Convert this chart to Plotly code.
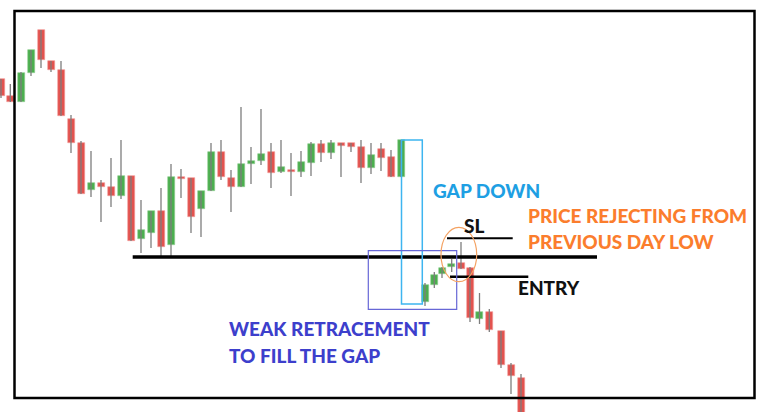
import plotly.graph_objects as go

# ---- data ----
slot = [0, 0.93, 2, 3, 4, 5, 6, 7, 8, 9, 10, 11, 12, 13, 14, 15, 16, 17, 18, 19,
        20, 21, 22, 23, 24, 25, 26, 27, 28, 29, 30, 31, 32, 33, 34, 35, 36, 37, 38, 39,
        40, 42.4, 43.33, 44.1, 45.07, 46, 46.9, 47.85, 48.83, 50, 51, 52]
open_ = [333, 316, 310, 339, 382, 351, 342, 293, 269, 222, 229, 225, 216, 236, 173, 179,
         201, 167, 235, 234, 203, 221, 260, 234, 225, 248, 251, 260, 240, 242, 240, 249,
         268, 259, 269, 269, 265, 244, 263, 255, 235, 110, 127, 138, 145, 149, 144, 93,
         100, 81, 47, 34]
high = [333, 328, 340, 362, 382, 351, 351, 297, 271, 261, 232, 254, 272, 236, 212, 201,
        224, 248, 243, 234, 221, 269, 272, 242, 305, 265, 303, 269, 272, 259, 261, 270,
        272, 272, 269, 269, 272, 269, 269, 262, 272, 129, 140, 145, 153, 170, 145, 119,
        103, 81, 49, 38]
low = [314, 310, 310, 336, 344, 340, 296, 259, 218, 215, 190, 205, 213, 171, 159, 164,
       155, 155, 214, 179, 175, 221, 232, 200, 225, 228, 247, 224, 239, 216, 235, 236,
       250, 253, 235, 260, 229, 238, 241, 235, 235, 106, 124, 134, 140, 143, 90, 88,
       80, 44, 18, -10]
close = [316, 310, 339, 362, 352, 342, 296, 269, 218, 229, 225, 216, 236, 171, 182, 201,
         165, 235, 233, 195, 221, 260, 235, 225, 248, 251, 258, 239, 245, 240, 250, 268,
         259, 269, 266, 265, 244, 257, 254, 235, 272, 127, 137, 144, 148, 143, 94, 100,
         82, 47, 36, -8]

prev_day_low = 155
stop_loss = 173.7
entry = 135.3

labels = {
    "gap": "GAP DOWN",
    "rej1": "PRICE REJECTING FROM",
    "rej2": "PREVIOUS DAY LOW",
    "sl": "SL",
    "entry": "ENTRY",
    "weak1": "WEAK RETRACEMENT",
    "weak2": "TO FILL THE GAP",
}

RED = "#e2534f"
GREEN = "#4cae4f"
WICK = "#7d7d7d"

fig = go.Figure()

# wicks
wx, wy = [], []
for x, h, l in zip(slot, high, low):
    wx += [x, x, None]
    wy += [l, h, None]
fig.add_trace(go.Scatter(x=wx, y=wy, mode="lines",
                         line=dict(color=WICK, width=1.3), hoverinfo="skip",
                         showlegend=False))

# bodies
base = [min(o, c) for o, c in zip(open_, close)]
height = [max(abs(c - o), 2) for o, c in zip(open_, close)]
colors = [GREEN if c > o else RED for o, c in zip(open_, close)]
fig.add_trace(go.Bar(x=slot, y=height, base=base, width=0.7,
                     marker=dict(color=colors, line=dict(width=0.6, color=[
                         "#8fd091" if c == GREEN else "#f29a98" for c in colors])),
                     showlegend=False))

# annotation shapes
fig.add_shape(type="line", x0=13.17, x1=59.6, y0=prev_day_low, y1=prev_day_low,
              line=dict(color="black", width=3.5))
fig.add_shape(type="line", x0=44.6, x1=51.17, y0=stop_loss, y1=stop_loss,
              line=dict(color="black", width=2))
fig.add_shape(type="line", x0=44.9, x1=52.73, y0=entry, y1=entry,
              line=dict(color="black", width=2.5))
fig.add_shape(type="rect", x0=40.05, x1=42.13, y0=108, y1=272,
              line=dict(color="#3db5f0", width=1.5))
fig.add_shape(type="rect", x0=36.73, x1=45.57, y0=102.7, y1=161.3,
              line=dict(color="#6767d6", width=1.2))
fig.add_shape(type="circle", x0=44.0, x1=47.57, y0=130.3, y1=184.7,
              line=dict(color="#f4a262", width=1.2))

# frame
fig.add_shape(type="rect", xref="paper", yref="paper",
              x0=14.5 / 768, x1=754.5 / 768, y0=1 - 398 / 412, y1=1 - 11 / 412,
              line=dict(color="black", width=2.5))

def note(x, y, text, color):
    fig.add_annotation(x=x, y=y, text=text, showarrow=False, xanchor="left",
                       yanchor="middle",
                       font=dict(family="Lato", size=19, color=color, weight=900))

note(43.0, 221.7, labels["gap"], "#1e9fe3")
note(52.45, 197, labels["rej1"], "#fb7d2d")
note(52.45, 170.3, labels["rej2"], "#fb7d2d")
note(46.1, 187, labels["sl"], "#111111")
note(51.45, 124.5, labels["entry"], "#111111")
note(22.6, 84, labels["weak1"], "#3d3fcc")
note(22.6, 56.5, labels["weak2"], "#3d3fcc")

fig.update_layout(
    width=768, height=412, margin=dict(l=0, r=0, t=0, b=0),
    paper_bgcolor="white", plot_bgcolor="white",
    xaxis=dict(range=[-0.1, 76.7], visible=False, fixedrange=True),
    yaxis=dict(range=[0, 412], visible=False, fixedrange=True),
    bargap=0, showlegend=False,
)

fig.write_html("out.html")
